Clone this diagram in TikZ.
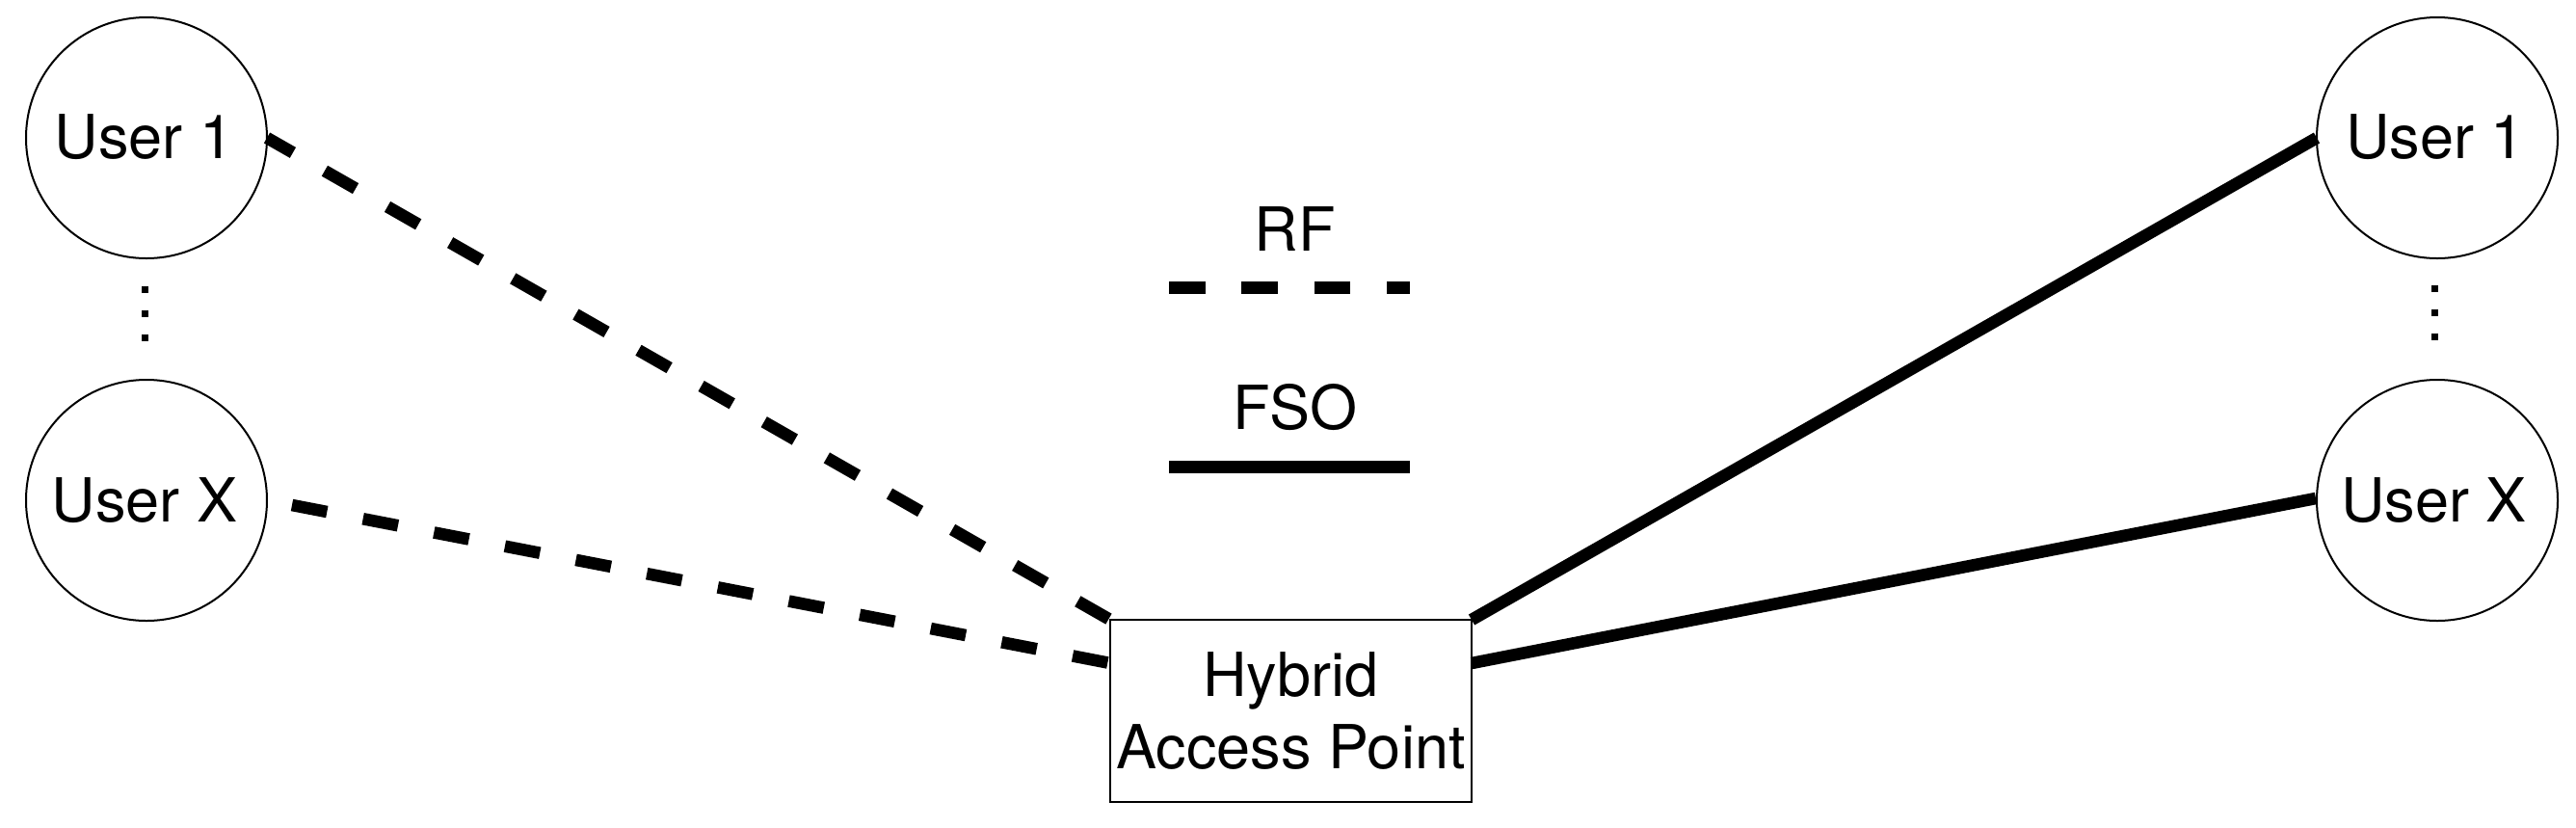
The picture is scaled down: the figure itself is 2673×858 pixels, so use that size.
\documentclass[tikz,border=0pt]{standalone}
\usepackage{fontspec}
\setmainfont{TeX Gyre Heros}
\tikzset{
  usercirc/.style={draw=black,circle,line width=1pt,minimum size=125pt,inner sep=0pt,outer sep=0pt,
    font=\fontsize{31.5}{36}\selectfont,text height=22.5pt,text depth=0pt},
  apbox/.style={draw=black,rectangle,line width=1pt,minimum width=187.5pt,minimum height=94.5pt,inner sep=0pt,outer sep=0pt,
    align=center,font=\fontsize{31.5}{37.5}\selectfont},
  legendtext/.style={inner sep=0pt,outer sep=0pt,anchor=base,font=\fontsize{31.5}{36}\selectfont},
  rflink/.style={line width=6.3pt,dash pattern=on 18.5pt off 19pt},
  fsolink/.style={line width=6.3pt},
  rfkey/.style={line width=6.5pt,dash pattern=on 18.8pt off 18.9pt},
  fsokey/.style={line width=6.5pt},
  dotcol/.style={line width=3.5pt,dash pattern=on 3.5pt off 9pt}
}
\begin{document}
\begin{tikzpicture}[x=0.5pt,y=-0.5pt]
\useasboundingbox (0,0) rectangle (2673,858);
\node[usercirc] (la) at (152,143) {\hspace*{-2.5pt}\raisebox{0.75pt}{User 1}};
\node[usercirc] (lx) at (152,519) {\hspace*{-2pt}User X};
\node[usercirc] (ra) at (2529,143) {\hspace*{-2pt}\raisebox{0.75pt}{User 1}};
\node[usercirc] (rx) at (2529,519) {\hspace*{-3.4pt}User X};
\node[apbox] (ap) at (1339.5,737.5) {Hybrid\\Access Point};
\node[legendtext] (rflabel) at (1343.5,260) {RF};
\node[legendtext] (fsolabel) at (1344,445) {FSO};
\coordinate (rfa) at (1213,298);
\coordinate (rfb) at (1463,298);
\coordinate (fsoa) at (1213,484);
\coordinate (fsob) at (1463,484);
\coordinate (lxout) at (303,524);
\coordinate (apw) at (1152,688);
\coordinate (ape) at (1527,688);
\coordinate (rxin) at (2403,517);
\coordinate (lda) at (150,297);
\coordinate (ldb) at (150,355);
\coordinate (rda) at (2526,296);
\coordinate (rdb) at (2526,354);
\draw[rflink,dash phase=3pt] (la.east) -- (ap.north west);
\draw[rflink] (lxout) -- (apw);
\draw[fsolink] (ap.north east) -- (ra.west);
\draw[fsolink] (ape) -- (rxin);
\draw[rfkey] (rfa) -- (rfb);
\draw[fsokey] (fsoa) -- (fsob);
\draw[dotcol] (lda) -- (ldb);
\draw[dotcol] (rda) -- (rdb);
\end{tikzpicture}
\end{document}
